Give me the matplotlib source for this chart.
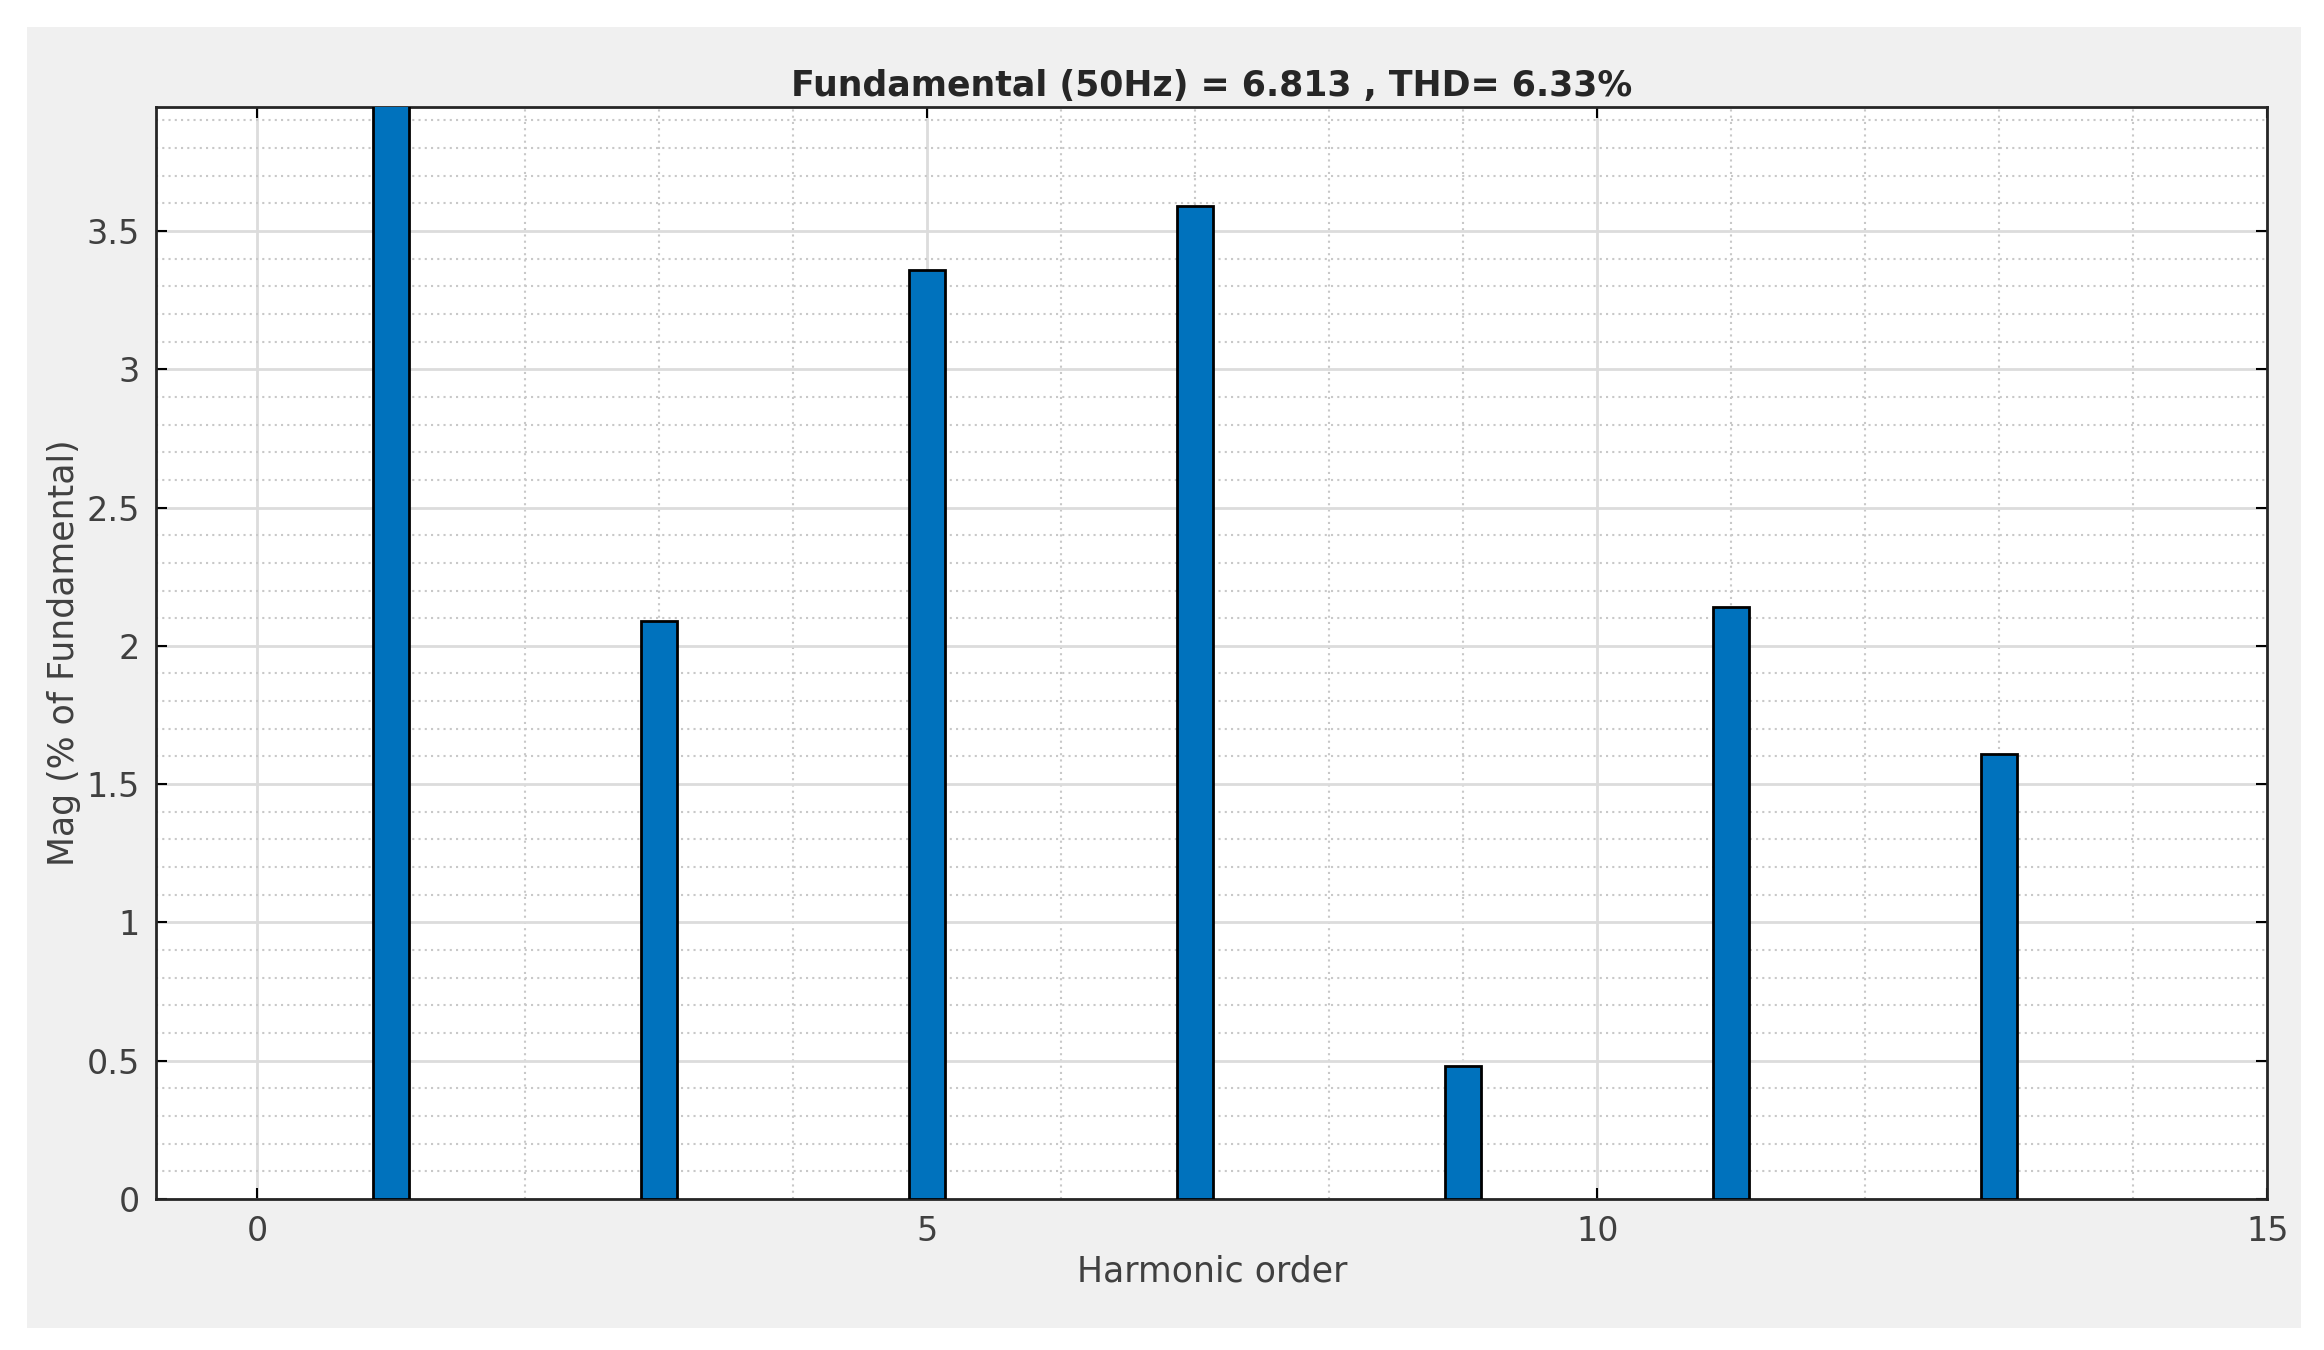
import matplotlib
matplotlib.use("Agg")
import matplotlib.pyplot as plt
from matplotlib.patches import Rectangle
from matplotlib.ticker import MultipleLocator

# harmonic spectrum (% of fundamental)
orders = [1, 3, 5, 7, 9, 11, 13]
mags = [100.0, 2.09, 3.36, 3.59, 0.48, 2.14, 1.61]
title = "Fundamental (50Hz) = 6.813 , THD= 6.33%"

fig = plt.figure(figsize=(23.24, 13.5), dpi=100)
fig.patches.append(Rectangle((0.0115, 0.0165), 0.9785, 0.9635, transform=fig.transFigure,
                             facecolor="#f0f0f0", edgecolor="none", zorder=-10))
ax = fig.add_axes([0.0673, 0.112, 0.9083, 0.809])
ax.set_facecolor("white")
ax.bar(orders, mags, width=0.27, color="#0072bd", edgecolor="black", linewidth=2, zorder=3)
ax.set_xlim(-0.75, 15)
ax.set_ylim(0, 3.95)
ax.set_xticks([0, 5, 10, 15])
ax.set_yticks([0, 0.5, 1, 1.5, 2, 2.5, 3, 3.5])
ax.set_yticklabels(["0", "0.5", "1", "1.5", "2", "2.5", "3", "3.5"])
ax.xaxis.set_minor_locator(MultipleLocator(1))
ax.yaxis.set_minor_locator(MultipleLocator(0.1))
ax.grid(which="major", color="#dcdcdc", linewidth=2, zorder=0)
ax.grid(which="minor", color="#c8c8c8", linestyle=(0, (1, 2)), linewidth=1.5, zorder=0)
ax.tick_params(which="both", direction="in", top=True, right=True, labelsize=24,
               labelcolor="#404040", length=8, width=1.5, pad=12)
ax.tick_params(which="minor", length=0)
for s in ax.spines.values():
    s.set_linewidth(2)
    s.set_color("#262626")
ax.set_xlabel("Harmonic order", fontsize=25, color="#404040")
ax.set_ylabel("Mag (% of Fundamental)", fontsize=25, color="#404040")
ax.set_title(title, fontsize=25, fontweight="bold", color="#262626", pad=8)
fig.savefig("out.png", dpi=100)
